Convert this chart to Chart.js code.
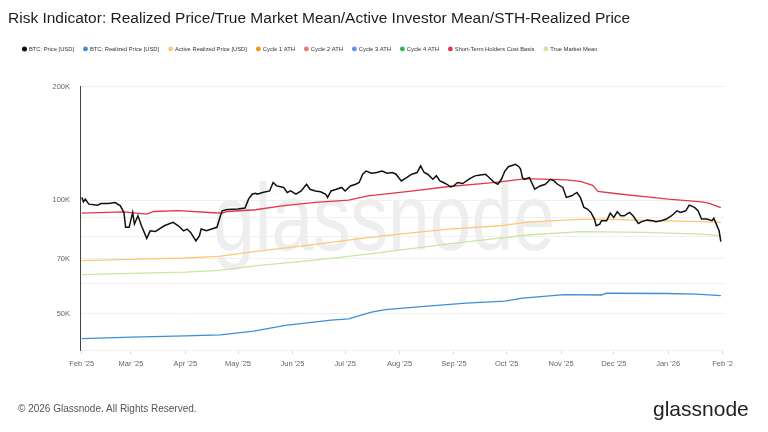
<!DOCTYPE html>
<html>
<head>
<meta charset="utf-8">
<script src="https://cdn.jsdelivr.net/npm/chart.js@4.4.1/dist/chart.umd.min.js"></script>
<style>
  html, body { margin: 0; padding: 0; background: #fff; }
  body { width: 768px; height: 432px; position: relative; overflow: hidden; font-family: "Liberation Sans", Arial, sans-serif; }
  #wrap { position: absolute; left: 0; top: 0; width: 768px; height: 432px; }
  #title { position: absolute; left: 8px; top: 9px; font-size: 15.5px; line-height: 18px; color: #1d1d1d; white-space: nowrap; }
  #footer { position: absolute; left: 18px; top: 403px; font-size: 10px; line-height: 12px; color: #555; white-space: nowrap; }
  #logo { position: absolute; left: 653px; top: 398px; font-size: 21px; line-height: 21px; color: #222; white-space: nowrap; }
</style>
</head>
<body>
<div id="wrap"><canvas id="chart" width="768" height="432"></canvas></div>
<div id="title">Risk Indicator: Realized Price/True Market Mean/Active Investor Mean/STH-Realized Price</div>
<div id="footer">© 2026 Glassnode. All Rights Reserved.</div>
<div id="logo">glassnode</div>
<script>
// x axis: month starts and their labels (last one is cut off in the original)
var monthStarts = ['2025-02-01','2025-03-01','2025-04-01','2025-05-01','2025-06-01','2025-07-01','2025-08-01',
	'2025-09-01','2025-10-01','2025-11-01','2025-12-01','2026-01-01','2026-02-01'];
var monthLabels = ["Feb '25","Mar '25","Apr '25","May '25","Jun '25","Jul '25","Aug '25",
	"Sep '25","Oct '25","Nov '25","Dec '25","Jan '26","Feb '2"];

// y axis (log scale): grid lines and the ones that get a label
var yGridValues = [40000, 50000, 60000, 70000, 80000, 90000, 100000, 200000];
var yTickValues = [50000, 70000, 100000, 200000];
var yTickLabels = ['50K', '70K', '100K', '200K'];

// BTC price
var priceDates = [
	'2025-02-01','2025-02-02','2025-02-03','2025-02-05','2025-02-10','2025-02-12','2025-02-16','2025-02-20','2025-02-23','2025-02-25','2025-02-26','2025-02-28',
	'2025-03-02','2025-03-03','2025-03-05','2025-03-07','2025-03-10','2025-03-12','2025-03-15','2025-03-17','2025-03-20','2025-03-25','2025-03-28','2025-03-31',
	'2025-04-02','2025-04-04','2025-04-07','2025-04-09','2025-04-10','2025-04-13','2025-04-16','2025-04-19','2025-04-21','2025-04-22','2025-04-25',
	'2025-05-01','2025-05-05','2025-05-07','2025-05-09','2025-05-11','2025-05-12','2025-05-15','2025-05-19','2025-05-21','2025-05-23','2025-05-27','2025-05-29','2025-05-31',
	'2025-06-03','2025-06-06','2025-06-09','2025-06-11','2025-06-14','2025-06-17','2025-06-20','2025-06-21','2025-06-23','2025-06-26','2025-06-29',
	'2025-07-01','2025-07-04','2025-07-07','2025-07-09','2025-07-11','2025-07-13','2025-07-16','2025-07-19','2025-07-22','2025-07-25','2025-07-28','2025-07-30',
	'2025-08-02','2025-08-05','2025-08-08','2025-08-11','2025-08-13','2025-08-15','2025-08-17','2025-08-20','2025-08-22','2025-08-24','2025-08-26','2025-08-28','2025-08-30',
	'2025-09-01','2025-09-03','2025-09-06','2025-09-10','2025-09-13','2025-09-16','2025-09-19','2025-09-21','2025-09-24','2025-09-26','2025-09-28','2025-09-30',
	'2025-10-02','2025-10-06','2025-10-08','2025-10-09','2025-10-10','2025-10-11','2025-10-14','2025-10-17','2025-10-20','2025-10-23','2025-10-26','2025-10-28','2025-10-30',
	'2025-11-02','2025-11-04','2025-11-07','2025-11-10','2025-11-12','2025-11-14','2025-11-16','2025-11-18','2025-11-20','2025-11-21','2025-11-23','2025-11-24','2025-11-27','2025-11-29',
	'2025-12-01','2025-12-03','2025-12-05','2025-12-07','2025-12-10','2025-12-12','2025-12-15','2025-12-17','2025-12-20','2025-12-23','2025-12-25','2025-12-28','2025-12-31',
	'2026-01-03','2026-01-06','2026-01-08','2026-01-11','2026-01-13','2026-01-16','2026-01-18','2026-01-20','2026-01-23','2026-01-26','2026-01-27','2026-01-28','2026-01-30','2026-01-31'];
var priceValues = [
	101700,99000,100600,97600,97000,98000,98000,98500,96600,92800,84700,84700,
	92800,86400,90900,85500,79200,82900,82600,83800,85500,87300,85500,82900,
	83800,82100,78000,80400,83800,82900,83800,84700,90900,93700,94500,
	94800,95300,100600,103700,104300,103700,104800,105800,111400,109100,108100,104800,105800,
	103700,105800,110200,106900,105800,105300,103700,101700,105800,106900,108100,
	105800,109100,110200,111400,117200,119500,117900,118400,119500,117900,118400,117200,
	112500,114700,117200,118400,123300,118400,117200,113600,116100,112500,111400,110200,108400,
	109100,111400,110700,114100,116000,116600,117200,114800,111400,110200,113600,119500,
	122700,124500,122700,120800,114800,113600,114800,106900,109100,110200,113600,112500,110200,
	108100,101700,102700,104800,101700,95700,94700,92800,89100,85500,86400,88200,88200,92400,
	90000,93100,90900,90900,92800,90900,86700,87700,88500,88200,87700,88200,89100,
	90900,93700,92800,93700,97000,95700,93700,89100,89100,88200,89500,87300,82900,77600];

// BTC realized price
var realizedDates = ['2025-02-01','2025-03-01','2025-04-01','2025-04-21','2025-05-10','2025-05-28','2025-06-23','2025-07-03','2025-07-16','2025-07-24',
	'2025-08-15','2025-09-08','2025-09-30','2025-10-10','2025-11-03','2025-11-24','2025-11-27','2025-12-31','2026-01-17','2026-01-31'];
var realizedValues = [42900,43300,43600,43900,44900,46500,48000,48400,50400,51200,
	52200,53300,53900,54900,56100,56000,56600,56500,56300,55800];

// Active realized price
var activeDates = ['2025-02-01','2025-03-01','2025-04-01','2025-04-20','2025-05-10','2025-06-14','2025-07-14','2025-08-13',
	'2025-08-29','2025-09-27','2025-10-13','2025-11-12','2025-11-25','2025-12-20','2026-01-15','2026-01-31'];
var activeValues = [69100,69600,70200,70900,73000,76300,79500,82400,
	83800,85500,87400,88900,89100,88300,87800,87300];

// Short-term holders cost basis
var sthDates = ['2025-02-01','2025-02-25','2025-03-10','2025-03-14','2025-03-28','2025-04-17','2025-04-22','2025-04-25','2025-05-11','2025-05-26',
	'2025-06-14','2025-07-03','2025-07-14','2025-08-09','2025-08-29','2025-09-17','2025-09-27','2025-10-12','2025-11-04','2025-11-12',
	'2025-11-19','2025-11-22','2025-12-03','2025-12-20','2026-01-01','2026-01-20','2026-01-24','2026-01-31'];
var sthValues = [92400,93100,91800,93300,93800,92600,92400,93300,94300,96600,
	98600,100000,102700,105800,108700,110700,111800,114100,113200,112100,
	109500,105500,104000,102000,100600,99000,98200,95500];

// True market mean
var tmmDates = ['2025-02-01','2025-03-01','2025-04-01','2025-04-20','2025-05-12','2025-06-14','2025-07-14','2025-08-29',
	'2025-09-27','2025-10-13','2025-11-12','2025-12-20','2026-01-20','2026-01-31'];
var tmmValues = [63400,63900,64400,65100,67000,69300,71900,76500,
	79300,80800,82500,82100,81200,80400];

var DAY0 = Date.UTC(2025, 1, 1);
function dayOf(s) {
	var p = s.split('-');
	return (Date.UTC(+p[0], +p[1] - 1, +p[2]) - DAY0) / 86400000;
}
function points(dates, values) {
	var out = [];
	for (var i = 0; i < dates.length; i++) {
		out.push({x: dayOf(dates[i]), y: values[i]});
	}
	return out;
}

function lineSet(label, color, dates, values, width) {
	return {
		label: label,
		data: dates ? points(dates, values) : [],
		borderColor: color,
		backgroundColor: color,
		borderWidth: width || 1.3,
		pointRadius: 0,
		tension: 0,
		fill: false
	};
}

// faint logo behind the lines
var watermark = {
	id: 'watermark',
	beforeDatasetsDraw: function(chart) {
		var ctx = chart.ctx;
		ctx.save();
		ctx.fillStyle = '#eeeeee';
		ctx.font = '75px "Liberation Sans", Arial, sans-serif';
		ctx.textAlign = 'center';
		ctx.textBaseline = 'alphabetic';
		ctx.translate(384, 250);
		ctx.scale(1, 1.25);
		ctx.fillText('glassnode', 0, 0);
		ctx.restore();
	}
};

// push the plot down below the legend
var legendGap = {
	id: 'legendGap',
	beforeInit: function(chart) {
		var fit = chart.legend.fit;
		chart.legend.fit = function() {
			fit.call(this);
			this.height += 25;
		};
	}
};

Chart.defaults.font.family = '"Liberation Sans", Arial, sans-serif';

new Chart(document.getElementById('chart'), {
	type: 'line',
	data: {
		datasets: [
			lineSet('BTC: Price [USD]', '#111111', priceDates, priceValues, 1.5),
			lineSet('BTC: Realized Price [USD]', '#3d8ed6', realizedDates, realizedValues),
			lineSet('Active Realized Price [USD]', '#fdc878', activeDates, activeValues),
			lineSet('Cycle 1 ATH', '#f7931a'),
			lineSet('Cycle 2 ATH', '#f47373'),
			lineSet('Cycle 3 ATH', '#5b8ff9'),
			lineSet('Cycle 4 ATH', '#2eb84b'),
			lineSet('Short-Term Holders Cost Basis', '#e0364f', sthDates, sthValues),
			lineSet('True Market Mean', '#c8e7a0', tmmDates, tmmValues)
		]
	},
	options: {
		responsive: false,
		animation: false,
		layout: { padding: { left: 13, top: 36, right: 44, bottom: 62 } },
		plugins: {
			tooltip: { enabled: false },
			legend: {
				position: 'top',
				align: 'start',
				labels: {
					usePointStyle: true,
					pointStyle: 'circle',
					boxWidth: 3,
					boxHeight: 2.5,
					padding: 10,
					color: '#333',
					font: { size: 5.8 }
				}
			}
		},
		scales: {
			x: {
				type: 'linear',
				min: -1,
				max: 365.8,
				grid: { drawOnChartArea: false, drawTicks: true, tickLength: 4, color: '#dddddd' },
				border: { display: false },
				ticks: {
					autoSkip: false,
					maxRotation: 0,
					padding: 5,
					color: '#666',
					font: { size: 7.5 },
					callback: function(v, i) { return monthLabels[i]; }
				},
				afterBuildTicks: function(s) {
					s.ticks = monthStarts.map(function(d) { return {value: dayOf(d)}; });
				},
				afterFit: function(s) { s.height = 20; }
			},
			y: {
				type: 'logarithmic',
				min: 40000,
				max: 200000,
				border: { display: true, color: '#444', width: 1 },
				grid: { color: '#f0f0f0', drawTicks: false },
				ticks: {
					autoSkip: false,
					padding: 10,
					color: '#666',
					font: { size: 7.5 },
					callback: function(v) {
						var k = yTickValues.indexOf(v);
						return k >= 0 ? yTickLabels[k] : '';
					}
				},
				afterBuildTicks: function(s) {
					s.ticks = yGridValues.map(function(v) { return {value: v}; });
				},
				afterFit: function(s) { s.width = 67; }
			}
		}
	},
	plugins: [watermark, legendGap]
});
</script>
</body>
</html>
